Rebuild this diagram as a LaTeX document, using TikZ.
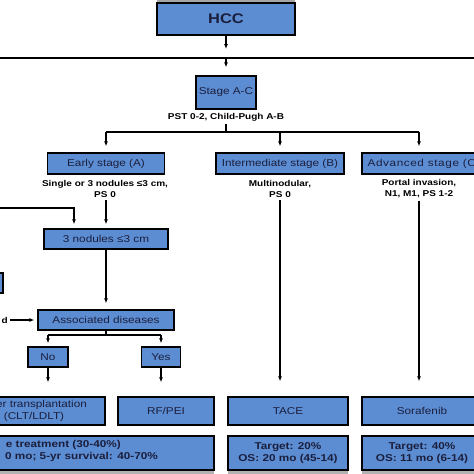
\documentclass[tikz,border=0pt]{standalone}
\usepackage{fontspec}
\setmainfont[FakeStretch=1.18]{Liberation Sans}
\usepackage{xcolor}
\usetikzlibrary{arrows.meta,shadows}
\definecolor{boxblue}{HTML}{5C8DD3}
\definecolor{boxtext}{HTML}{1B1E3C}

\begin{document}
\begin{tikzpicture}[x=1bp,y=-1bp,
  box/.style={draw=black,fill=boxblue,line width=1.3pt,inner sep=0pt,align=center,text=boxtext,font=\fontsize{10}{12}\selectfont},
  res/.style={box,font=\bfseries\fontsize{10}{12}\selectfont,drop shadow={shadow xshift=0bp,shadow yshift=-4bp,fill=gray!60,opacity=1}},
  lbl/.style={align=center,inner sep=0pt,font=\bfseries\fontsize{8.5}{11}\selectfont},
  line/.style={line width=1.2pt},
  arr/.style={line,-{Latex[length=5pt,width=4pt]}}]
\useasboundingbox (0,0) rectangle (474,474);
\clip (0,0) rectangle (474,474);
\fill[gray!70] (157,0) rectangle (295,3);
\node[box,minimum width=138bp,minimum height=32bp,font=\bfseries\fontsize{14}{16}\selectfont] (hcc) at (226,19) {HCC};
\coordinate (top) at (226,58);
\draw[line] (0,58) -- (474,58);
\draw[arr,shorten >=9bp] (hcc) -- (top);
\node[box,minimum width=60bp,minimum height=33bp] (stage) at (226,92.5) {Stage A-C};
\draw[arr,shorten >=8bp] (top) -- (stage);
\node[lbl] (pst) at (226,117) {PST 0-2, Child-Pugh A-B};
\coordinate (split) at (226,132);
\node[box,minimum width=117bp,minimum height=21bp] (early) at (106,163.5) {Early stage (A)};
\node[box,minimum width=128bp,minimum height=21bp] (inter) at (280,163.5) {Intermediate stage (B)};
\node[box,minimum width=124bp,minimum height=21bp,font=\fontsize{10}{12}\selectfont\addfontfeatures{LetterSpace=6}] (adv) at (424,163.5) {Advanced stage (C)};
\coordinate (advin) at (419,163.5);
\draw[line,shorten <=3bp] (pst) -- (split);
\draw[line] (early |- split) -- (advin |- split);
\foreach \n in {early,inter}
  \draw[arr,shorten >=6bp] (\n |- split) -- (\n);
\draw[arr] (advin |- split) -- (advin |- adv.north) [shorten >=6bp];
\node[lbl] (elbl) at (105,188.5) {Single or 3 nodules ≤3 cm,\\PS 0};
\node[lbl] (ilbl) at (280,188.5) {Multinodular,\\PS 0};
\node[lbl] (albl) at (419,188.5) {Portal invasion,\\N1, M1, PS 1-2};
\node[box,minimum width=124bp,minimum height=20bp] (nod3) at (106,239) {3 nodules ≤3 cm};
\draw[arr,shorten <=3bp,shorten >=4bp] (elbl.south -| nod3) -- (nod3);
\coordinate (lin) at (0,208);
\coordinate (lbend) at (74,208);
\draw[arr,shorten >=4bp] (lin) -- (lbend) -- (lbend |- nod3.north);
\node[box,minimum width=60bp,minimum height=20bp] (lbox) at (-27,283) {};
\node[box,minimum width=136bp,minimum height=20bp] (assoc) at (106,320) {Associated diseases};
\draw[arr,shorten >=6bp] (nod3) -- (assoc);
\node[lbl,anchor=east] (dtxt) at (8,320) {d};
\draw[arr,shorten <=2bp,shorten >=3bp] (dtxt) -- (assoc);
\coordinate (asplit) at (106,335);
\node[box,minimum width=40bp,minimum height=20bp] (no) at (48,357) {No};
\node[box,minimum width=39bp,minimum height=20bp] (yes) at (161,357) {Yes};
\draw[line] (assoc) -- (asplit);
\draw[line] (no |- asplit) -- (yes |- asplit);
\foreach \n in {no,yes}
  \draw[arr,shorten >=3bp] (\n |- asplit) -- (\n);
\node[box,minimum width=136bp,minimum height=28bp] (liver) at (37,411) {};
\node[align=center,inner sep=0pt,text=boxtext,font=\fontsize{10}{12}\selectfont] (livertxt) at (34,411) {Liver transplantation\\(CLT/LDLT)};
\node[box,minimum width=96bp,minimum height=28bp] (rf) at (166,411) {RF/PEI};
\node[box,minimum width=120bp,minimum height=28bp] (tace) at (288,411) {TACE};
\node[box,minimum width=120bp,minimum height=28bp] (sora) at (422,411) {Sorafenib};
\draw[arr,shorten >=14bp] (no) -- (no |- liver.north);
\draw[arr,shorten >=14bp] (yes) -- (yes |- rf.north);
\draw[arr,shorten <=3bp,shorten >=15bp] (ilbl) -- (ilbl |- tace.north);
\draw[arr,shorten <=3bp,shorten >=15bp] (albl) -- (albl |- sora.north);
\node[res,minimum width=274bp,minimum height=34bp] (cur) at (77,453) {};
\node[anchor=east,inner sep=0pt,text=boxtext,font=\bfseries\fontsize{10}{12}\selectfont] (cur1) at (121,445) {e treatment (30-40\%)};
\node[anchor=east,inner sep=0pt,text=boxtext,font=\bfseries\fontsize{10}{12}\selectfont] (cur2) at (158,456.5) {0 mo; 5-yr survival: 40-70\%};
\node[res,minimum width=120bp,minimum height=34bp] (tacer) at (288,453) {Target: 20\%\\OS: 20 mo (45-14)};
\node[res,minimum width=120bp,minimum height=34bp] (sorar) at (422,453) {Target: 40\%\\OS: 11 mo (6-14)};
\end{tikzpicture}
\end{document}
